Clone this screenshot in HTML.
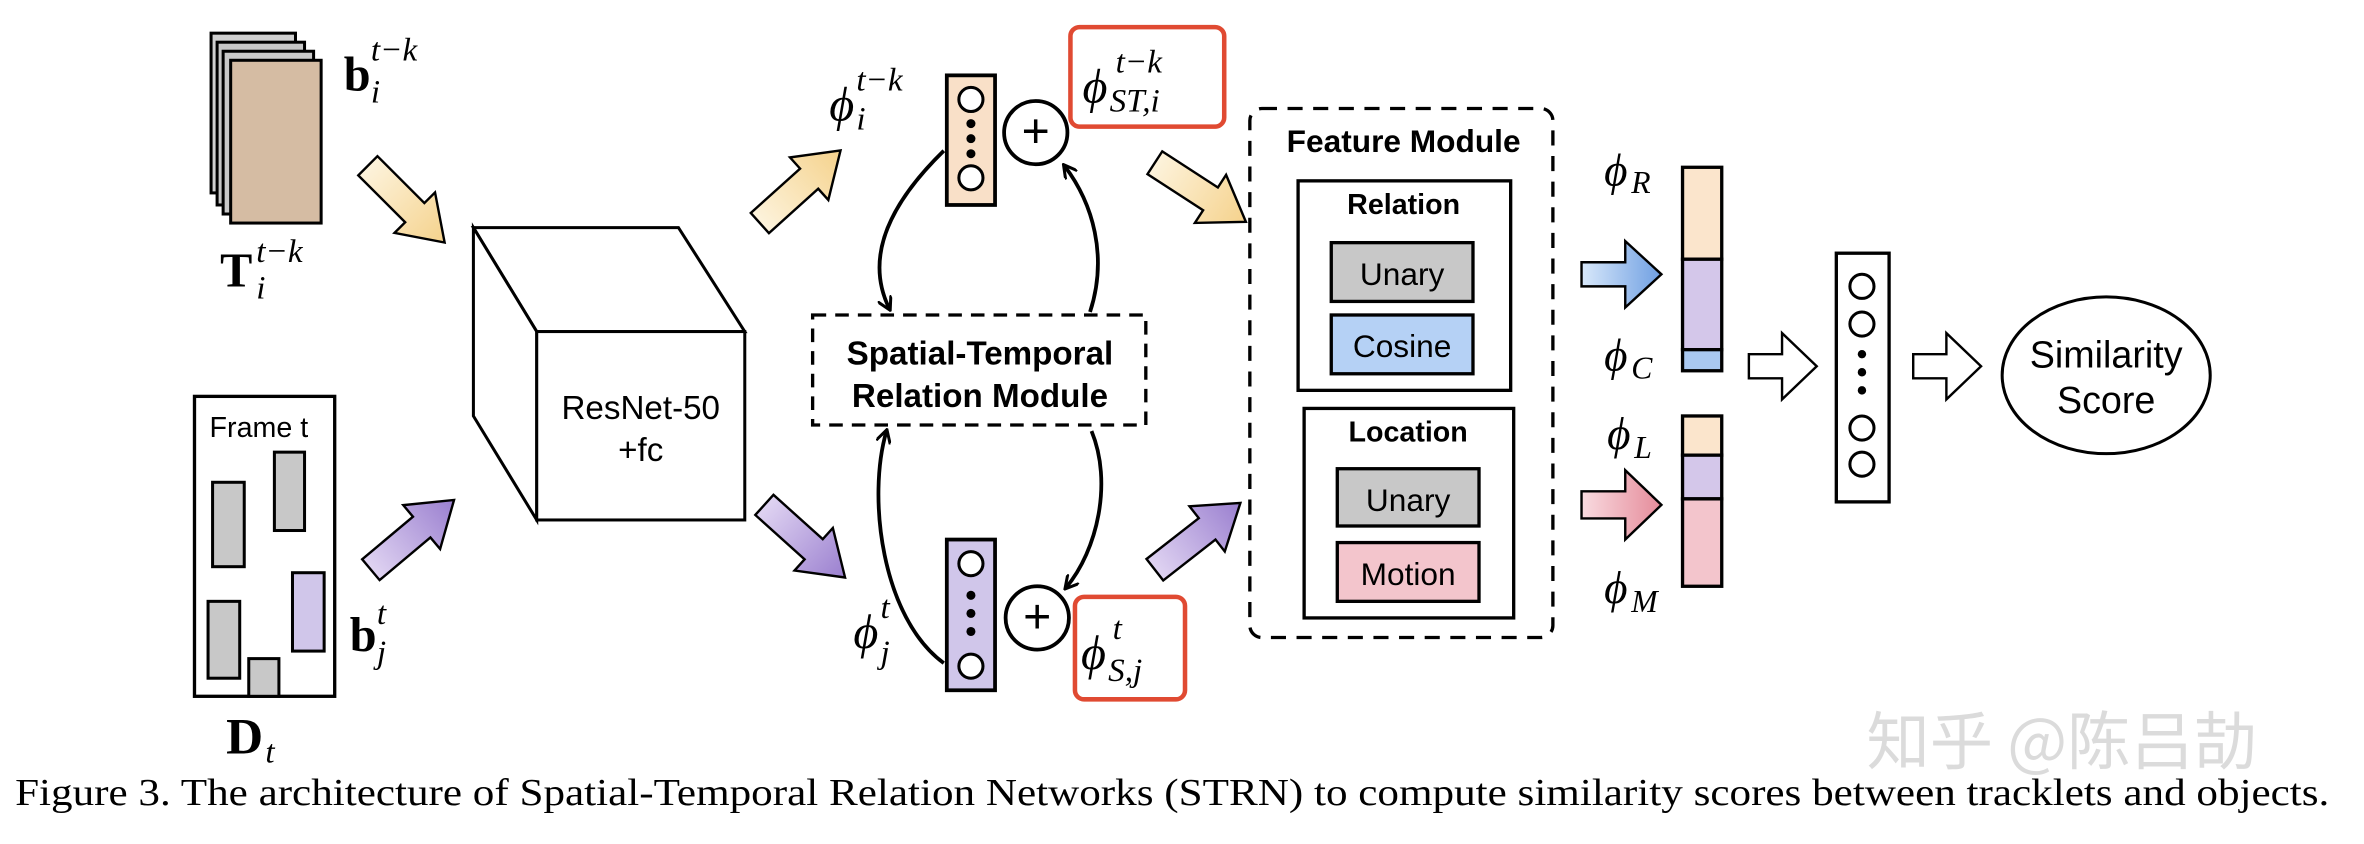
<!DOCTYPE html>
<html><head><meta charset="utf-8"><style>
html,body{margin:0;padding:0;background:#fff;}
svg{display:block;}
.m{font-family:"Liberation Serif",serif;font-style:italic;}
.b{font-family:"Liberation Serif",serif;font-weight:bold;}
.s{font-family:"Liberation Sans",sans-serif;}
</style></head><body>
<svg width="2364" height="844" viewBox="0 0 1568 560" preserveAspectRatio="none" xmlns="http://www.w3.org/2000/svg">
<defs>
<linearGradient id="gy" x1="0" x2="1" y1="0" y2="0"><stop offset="0" stop-color="#fdf3dc"/><stop offset="1" stop-color="#f5d28c"/></linearGradient>
<linearGradient id="gp" x1="0" x2="1" y1="0" y2="0"><stop offset="0" stop-color="#e0d4f2"/><stop offset="1" stop-color="#9a7fcf"/></linearGradient>
<linearGradient id="gb" x1="0" x2="1" y1="0" y2="0"><stop offset="0" stop-color="#d8e8fa"/><stop offset="1" stop-color="#6f9fe2"/></linearGradient>
<linearGradient id="gk" x1="0" x2="1" y1="0" y2="0"><stop offset="0" stop-color="#f9dbe0"/><stop offset="1" stop-color="#e58b9a"/></linearGradient>
<polygon id="ar" points="0,-9 44,-9 44,-19 72,0 44,19 44,9 0,9" stroke="#000" stroke-width="1.6" stroke-linejoin="miter"/>
<marker id="mh" markerWidth="10" markerHeight="10" refX="8" refY="5" orient="auto" markerUnits="userSpaceOnUse"><path d="M0,0 L9,5 L0,10" fill="none" stroke="#000" stroke-width="2"/></marker>
</defs>

<rect x="140" y="22" width="56" height="106" fill="#d0d0d0" stroke="#000" stroke-width="2"/>
<rect x="144" y="28" width="58" height="108" fill="#c8c8c8" stroke="#000" stroke-width="2"/>
<rect x="148" y="34" width="60" height="108" fill="#c9c9c9" stroke="#000" stroke-width="2"/>
<rect x="153" y="40" width="60" height="108" fill="#d5bca3" stroke="#000" stroke-width="2"/>
<text x="228" y="60" class="b" font-size="32">b</text><text x="246" y="40" class="m" font-size="22">t−k</text><text x="246" y="68" class="m" font-size="22">i</text>
<text x="146" y="190" class="b" font-size="32">T</text><text x="170" y="174" class="m" font-size="22">t−k</text><text x="170" y="198" class="m" font-size="22">i</text>

<rect x="129" y="263" width="93" height="199" fill="#fff" stroke="#000" stroke-width="2.2"/>
<text x="139" y="290" class="s" font-size="19">Frame t</text>
<rect x="141" y="320" width="21" height="56" fill="#c8c8c8" stroke="#000" stroke-width="2"/>
<rect x="182" y="300" width="20" height="52" fill="#c8c8c8" stroke="#000" stroke-width="2"/>
<rect x="138" y="399" width="21" height="51" fill="#c8c8c8" stroke="#000" stroke-width="2"/>
<rect x="165" y="437" width="20" height="25" fill="#c8c8c8" stroke="#000" stroke-width="2"/>
<rect x="194" y="380" width="21" height="52" fill="#d0c6ea" stroke="#000" stroke-width="2"/>
<text x="232" y="432" class="b" font-size="32">b</text><text x="250" y="414" class="m" font-size="22">t</text><text x="250" y="440" class="m" font-size="22">j</text>
<text x="150" y="500" class="b" font-size="34">D</text><text x="176" y="506" class="m" font-size="22">t</text>

<use href="#ar" fill="url(#gy)" transform="translate(244,110) rotate(45)"/>
<use href="#ar" fill="url(#gp)" transform="translate(246,378) rotate(-40)"/>

<g stroke="#000" stroke-width="2" fill="#fff">
<polygon points="314,151 450,151 494,220 356,220"/>
<polygon points="314,151 356,220 356,345 314,276"/>
<rect x="356" y="220" width="138" height="125"/>
</g>
<text x="425" y="278" class="s" font-size="22" text-anchor="middle">ResNet-50</text>
<text x="425" y="306" class="s" font-size="22" text-anchor="middle">+fc</text>

<use href="#ar" fill="url(#gy)" transform="translate(504,148) rotate(-42)"/>
<use href="#ar" fill="url(#gp)" transform="translate(507,335) rotate(42)"/>

<text x="550" y="80" class="m" font-size="32">ϕ</text><text x="568" y="60" class="m" font-size="22">t−k</text><text x="568" y="86" class="m" font-size="22">i</text>
<rect x="628" y="50" width="32" height="86" fill="#f9e0c8" stroke="#000" stroke-width="2.5"/>
<circle cx="644" cy="66" r="8" fill="#fff" stroke="#000" stroke-width="2"/>
<circle cx="644" cy="118" r="8" fill="#fff" stroke="#000" stroke-width="2"/>
<circle cx="644" cy="82" r="3" fill="#000"/><circle cx="644" cy="92" r="3" fill="#000"/><circle cx="644" cy="102" r="3" fill="#000"/>
<circle cx="687" cy="88" r="21" fill="#fff" stroke="#000" stroke-width="2.5"/>
<text x="687" y="98" font-family="Liberation Sans,sans-serif" font-size="32" text-anchor="middle">+</text>
<rect x="710" y="18" width="102" height="66" rx="6" fill="#fff" stroke="#e04a32" stroke-width="3"/>
<text x="718" y="68" class="m" font-size="32">ϕ</text><text x="740" y="48" class="m" font-size="22">t−k</text><text x="736" y="74" class="m" font-size="22">ST,i</text>

<rect x="539" y="209" width="221" height="73" fill="none" stroke="#000" stroke-width="2.2" stroke-dasharray="9,6"/>
<text x="650" y="242" class="s" font-size="22" font-weight="bold" text-anchor="middle">Spatial-Temporal</text>
<text x="650" y="270" class="s" font-size="22" font-weight="bold" text-anchor="middle">Relation Module</text>
<g fill="none" stroke="#000" stroke-width="2.5">
<path d="M626,100 C585,140 575,175 590,205" marker-end="url(#mh)"/>
<path d="M723,207 C735,170 725,135 706,110" marker-end="url(#mh)"/>
<path d="M626,440 C585,410 575,330 588,286" marker-end="url(#mh)"/>
<path d="M724,286 C738,320 728,365 707,390" marker-end="url(#mh)"/>
</g>

<rect x="628" y="358" width="32" height="100" fill="#d0c6ea" stroke="#000" stroke-width="2.5"/>
<circle cx="644" cy="374" r="8" fill="#fff" stroke="#000" stroke-width="2"/>
<circle cx="644" cy="442" r="8" fill="#fff" stroke="#000" stroke-width="2"/>
<circle cx="644" cy="395" r="3" fill="#000"/><circle cx="644" cy="407" r="3" fill="#000"/><circle cx="644" cy="419" r="3" fill="#000"/>
<circle cx="688" cy="410" r="21" fill="#fff" stroke="#000" stroke-width="2.5"/>
<text x="688" y="420" font-family="Liberation Sans,sans-serif" font-size="32" text-anchor="middle">+</text>
<text x="566" y="430" class="m" font-size="32">ϕ</text><text x="584" y="410" class="m" font-size="22">t</text><text x="584" y="440" class="m" font-size="22">j</text>
<rect x="713" y="396" width="73" height="68" rx="6" fill="#fff" stroke="#e04a32" stroke-width="3"/>
<text x="717" y="444" class="m" font-size="32">ϕ</text><text x="738" y="424" class="m" font-size="22">t</text><text x="735" y="452" class="m" font-size="22">S,j</text>

<use href="#ar" fill="url(#gy)" transform="translate(766,108) rotate(33)"/>
<use href="#ar" fill="url(#gp)" transform="translate(766,378) rotate(-38)"/>

<rect x="829" y="72" width="201" height="351" rx="8" fill="none" stroke="#000" stroke-width="2.2" stroke-dasharray="10,7"/>
<text x="931" y="101" class="s" font-size="21" font-weight="bold" text-anchor="middle">Feature Module</text>
<rect x="861" y="120" width="141" height="139" fill="#fff" stroke="#000" stroke-width="2.2"/>
<text x="931" y="142" class="s" font-size="19" font-weight="bold" text-anchor="middle">Relation</text>
<rect x="883" y="161" width="94" height="39" fill="#c8c8c8" stroke="#000" stroke-width="2.2"/>
<text x="930" y="189" class="s" font-size="21" text-anchor="middle">Unary</text>
<rect x="883" y="209" width="94" height="39" fill="#b5d1f5" stroke="#000" stroke-width="2.2"/>
<text x="930" y="237" class="s" font-size="21" text-anchor="middle">Cosine</text>
<rect x="865" y="271" width="139" height="139" fill="#fff" stroke="#000" stroke-width="2.2"/>
<text x="934" y="293" class="s" font-size="19" font-weight="bold" text-anchor="middle">Location</text>
<rect x="887" y="311" width="94" height="38" fill="#c8c8c8" stroke="#000" stroke-width="2.2"/>
<text x="934" y="339" class="s" font-size="21" text-anchor="middle">Unary</text>
<rect x="887" y="360" width="94" height="39" fill="#f3c5cc" stroke="#000" stroke-width="2.2"/>
<text x="934" y="388" class="s" font-size="21" text-anchor="middle">Motion</text>

<polygon points="1049,174 1078,174 1078,160 1102,182 1078,204 1078,190 1049,190" fill="url(#gb)" stroke="#000" stroke-width="1.6"/>
<polygon points="1049,326 1078,326 1078,312 1102,335 1078,358 1078,344 1049,344" fill="url(#gk)" stroke="#000" stroke-width="1.6"/>

<rect x="1116" y="111" width="26" height="61" fill="#fbe5cc" stroke="#000" stroke-width="2.2"/>
<rect x="1116" y="172" width="26" height="60" fill="#d4c7ea" stroke="#000" stroke-width="2.2"/>
<rect x="1116" y="232" width="26" height="14" fill="#a9c8f0" stroke="#000" stroke-width="2.2"/>
<rect x="1116" y="276" width="26" height="26" fill="#fbe5cc" stroke="#000" stroke-width="2.2"/>
<rect x="1116" y="302" width="26" height="29" fill="#d4c7ea" stroke="#000" stroke-width="2.2"/>
<rect x="1116" y="331" width="26" height="58" fill="#f3c5cc" stroke="#000" stroke-width="2.2"/>
<text x="1064" y="123" class="m" font-size="30">ϕ</text><text x="1082" y="128" class="m" font-size="21">R</text>
<text x="1064" y="246" class="m" font-size="30">ϕ</text><text x="1082" y="251" class="m" font-size="21">C</text>
<text x="1066" y="298" class="m" font-size="30">ϕ</text><text x="1084" y="304" class="m" font-size="21">L</text>
<text x="1064" y="400" class="m" font-size="30">ϕ</text><text x="1082" y="406" class="m" font-size="21">M</text>

<polygon points="1160,235 1182,235 1182,221 1205,243 1182,265 1182,251 1160,251" fill="#fff" stroke="#000" stroke-width="1.6"/>
<polygon points="1269,235 1291,235 1291,221 1314,243 1291,265 1291,251 1269,251" fill="#fff" stroke="#000" stroke-width="1.6"/>

<rect x="1218" y="168" width="35" height="165" fill="#fff" stroke="#000" stroke-width="2.2"/>
<circle cx="1235" cy="190" r="8" fill="#fff" stroke="#000" stroke-width="2"/>
<circle cx="1235" cy="215" r="8" fill="#fff" stroke="#000" stroke-width="2"/>
<circle cx="1235" cy="235" r="2.8" fill="#000"/><circle cx="1235" cy="247" r="2.8" fill="#000"/><circle cx="1235" cy="259" r="2.8" fill="#000"/>
<circle cx="1235" cy="284" r="8" fill="#fff" stroke="#000" stroke-width="2"/>
<circle cx="1235" cy="308" r="8" fill="#fff" stroke="#000" stroke-width="2"/>

<ellipse cx="1397" cy="249" rx="69" ry="52" fill="#fff" stroke="#000" stroke-width="2"/>
<text x="1397" y="244" class="s" font-size="25" text-anchor="middle">Similarity</text>
<text x="1397" y="274" class="s" font-size="25" text-anchor="middle">Score</text>

<text x="1238" y="507" font-family="'Noto Sans CJK SC',sans-serif" font-size="42" fill="#d8d8d8" opacity="0.9">知乎 @陈吕劼</text>
<text x="10" y="534" font-family="'Liberation Serif',serif" font-size="25.5" textLength="1535" lengthAdjust="spacingAndGlyphs">Figure 3. The architecture of Spatial-Temporal Relation Networks (STRN) to compute similarity scores between tracklets and objects.</text>
</svg>
</body></html>
